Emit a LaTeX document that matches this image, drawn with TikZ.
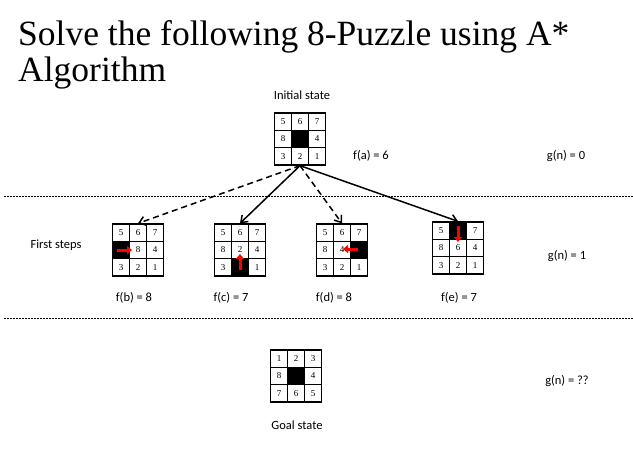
\documentclass[tikz,border=0pt]{standalone}
\usepackage{fontspec}
\setmainfont{Carlito}
\newfontfamily\ttl{Liberation Serif}
\usetikzlibrary{arrows.meta}
\newcommand\mygrid[4]{% name, cx, cy, list
  \node[draw, line width=1.3pt, minimum width=51pt, minimum height=52pt, inner sep=0pt] (#1) at (#2,#3) {};
  \foreach \v [count=\i from 0] in {#4} {
    \pgfmathtruncatemacro\col{mod(\i,3)}
    \pgfmathtruncatemacro\row{div(\i,3)}
    \pgfmathsetmacro\xx{#2-25.5+17*\col}
    \pgfmathsetmacro\yy{#3-26+17.33*\row}
    \ifnum\v=0
      \fill[black] (\xx,\yy) rectangle ++(17,17.33);
    \else
      \draw[line width=0.9pt] (\xx,\yy) rectangle ++(17,17.33);
      \node[font=\ttl\fontsize{9}{10}\selectfont] at (\xx+8.5,\yy+8.67) {\v};
    \fi
  }
}
\tikzset{lbl/.style={font=\fontsize{12.5}{14}\selectfont, anchor=center},
  conn/.style={line width=1.5pt, -{Straight Barb[length=6pt,width=9pt]}},
  dsh/.style={dash pattern=on 6pt off 4pt},
  redarr/.style={red, line width=3pt, -{Triangle[length=5pt,width=8pt]}},
  sep/.style={line width=0.9pt, dash pattern=on 1.5pt off 1.5pt}}
\begin{document}
\begin{tikzpicture}[x=1pt,y=-1pt]
\useasboundingbox[fill=white] (0,0) rectangle (633,467);
\node[font=\ttl\fontsize{35.5}{40}\selectfont, anchor=base west, inner sep=0pt] (t1) at (18,45) {Solve the following 8-Puzzle using A*};
\node[font=\ttl\fontsize{35.5}{40}\selectfont, anchor=base west, inner sep=0pt] (t2) at (18,81) {Algorithm};
\node[lbl] (is) at (302,95) {Initial state};
\mygrid{a}{300}{139}{5,6,7,8,0,4,3,2,1}
\node[lbl] (fa) at (371,156) {f(a) = 6};
\node[lbl] (g0) at (566,156) {g(n) = 0};
\coordinate (l1a) at (4,196); \coordinate (l1b) at (633,196);
\draw[sep] (l1a) -- (l1b);
\mygrid{b}{138}{250}{5,6,7,0,8,4,3,2,1}
\mygrid{c}{240}{250}{5,6,7,8,2,4,3,0,1}
\mygrid{d}{342}{250}{5,6,7,8,4,0,3,2,1}
\mygrid{e}{458}{248}{5,0,7,8,6,4,3,2,1}
\draw[conn, dsh] (a.south) -- (b.north);
\draw[conn] (a.south) -- (c.north);
\draw[conn, dsh] (a.south) -- (d.north);
\draw[conn] (a.south) -- (e.north);
\draw[redarr] (117,250) -- (132,250);
\draw[redarr] (240,270) -- (240,254);
\draw[redarr] (358,249) -- (343,249);
\draw[redarr] (458,226) -- (458,242);
\node[lbl] (fs) at (56,245) {First steps};
\node[lbl] (g1) at (567,256) {g(n) = 1};
\node[lbl] (fb) at (134,298) {f(b) = 8};
\node[lbl] (fc) at (231,298) {f(c) = 7};
\node[lbl] (fd) at (334,298) {f(d) = 8};
\node[lbl] (fe) at (459,298) {f(e) = 7};
\coordinate (l2a) at (4,318); \coordinate (l2b) at (633,318);
\draw[sep] (l2a) -- (l2b);
\mygrid{g}{296}{376}{1,2,3,8,0,4,7,6,5}
\node[lbl] (g2) at (567,381) {g(n) = ??};
\node[lbl] (gs) at (297,425) {Goal state};
\end{tikzpicture}
\end{document}
